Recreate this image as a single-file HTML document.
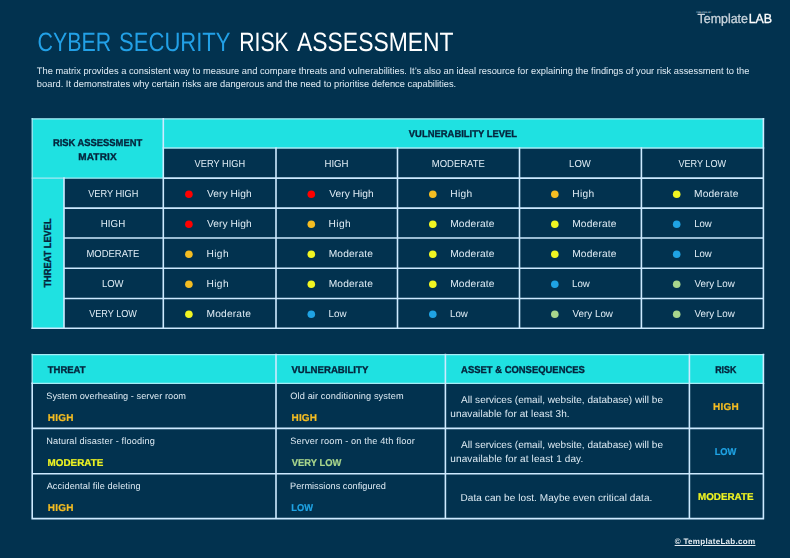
<!DOCTYPE html><html><head><meta charset="utf-8"><title>Cyber Security Risk Assessment</title><style>
html,body{margin:0;padding:0}
body{width:790px;height:558px;background:#02324f;position:relative;overflow:hidden;font-family:"Liberation Sans",sans-serif}
.b{position:absolute}
.t{position:absolute;white-space:nowrap;line-height:1;transform-origin:0 50%;text-rendering:geometricPrecision}
.foot{text-decoration:underline;text-underline-offset:0.5px}.lg{-webkit-text-stroke:0.3px currentColor}.hb{-webkit-text-stroke:0.35px currentColor}.cb{-webkit-text-stroke:0.2px currentColor}
.rot{position:absolute;white-space:nowrap;line-height:1;font-weight:700;transform:translate(-50%,-50%) rotate(-90deg) scaleX(0.915);text-rendering:geometricPrecision;-webkit-text-stroke:0.35px currentColor}
</style></head><body>
<svg class="b" style="left:0;top:0" width="790" height="558" viewBox="0 0 790 558"><rect x="32.2" y="118.8" width="731.20" height="29.20" fill="#1fe1e1"/><rect x="32.2" y="148" width="131.10" height="30.10" fill="#1fe1e1"/><rect x="32.2" y="178.1" width="31.80" height="150.20" fill="#1fe1e1"/><rect x="32.2" y="354.6" width="731.20" height="28.70" fill="#1fe1e1"/><path d="M31.40 118.8H764.20M162.50 148H764.20M31.40 178.1H164.10M32.2 118.00V329.10M31.40 354.6H764.20M31.40 383.3H764.20M32.2 353.80V384.10" fill="none" stroke="#a6ecf6" stroke-width="1.3"/><path d="M162.50 178.1H764.20M63.20 208.1H764.20M63.20 238H764.20M63.20 268.3H764.20M63.20 298.5H764.20M31.40 328.3H764.20M64 177.30V329.10M163.3 118.00V329.10M276 147.20V329.10M397.5 147.20V329.10M519.5 147.20V329.10M641.4 147.20V329.10M763.4 118.00V329.10M31.40 428.4H764.20M31.40 473.7H764.20M31.40 518.6H764.20M32.2 382.50V519.40M276 353.80V519.40M445.4 353.80V519.40M689.4 353.80V519.40M763.4 353.80V519.40" fill="none" stroke="#cdeaff" stroke-width="1.6"/><circle cx="188.9" cy="194.3" r="3.8" fill="#ff0000"/><circle cx="311.3" cy="194.3" r="3.8" fill="#ff0000"/><circle cx="432.8" cy="194.3" r="3.8" fill="#f5bd22"/><circle cx="554.8" cy="194.3" r="3.8" fill="#f5bd22"/><circle cx="676.7" cy="194.3" r="3.8" fill="#f1f522"/><circle cx="188.9" cy="224.3" r="3.8" fill="#ff0000"/><circle cx="311.3" cy="224.3" r="3.8" fill="#f5bd22"/><circle cx="432.8" cy="224.3" r="3.8" fill="#f1f522"/><circle cx="554.8" cy="224.3" r="3.8" fill="#f1f522"/><circle cx="676.7" cy="224.3" r="3.8" fill="#1fa3e4"/><circle cx="188.9" cy="254.3" r="3.8" fill="#f5bd22"/><circle cx="311.3" cy="254.3" r="3.8" fill="#f1f522"/><circle cx="432.8" cy="254.3" r="3.8" fill="#f1f522"/><circle cx="554.8" cy="254.3" r="3.8" fill="#f1f522"/><circle cx="676.7" cy="254.3" r="3.8" fill="#1fa3e4"/><circle cx="188.9" cy="284.3" r="3.8" fill="#f5bd22"/><circle cx="311.3" cy="284.3" r="3.8" fill="#f1f522"/><circle cx="432.8" cy="284.3" r="3.8" fill="#f1f522"/><circle cx="554.8" cy="284.3" r="3.8" fill="#1fa3e4"/><circle cx="676.7" cy="284.3" r="3.8" fill="#a9d68c"/><circle cx="188.9" cy="314.3" r="3.8" fill="#f1f522"/><circle cx="311.3" cy="314.3" r="3.8" fill="#1fa3e4"/><circle cx="432.8" cy="314.3" r="3.8" fill="#1fa3e4"/><circle cx="554.8" cy="314.3" r="3.8" fill="#a9d68c"/><circle cx="676.7" cy="314.3" r="3.8" fill="#a9d68c"/></svg>
<div class="rot" style="left:49.2px;top:253.0px;font-size:10.1px;color:#04243c">THREAT LEVEL</div>
<div class="t" style="left:696.2px;top:12.2px;font-size:2.3px;color:#b8c6d4;font-weight:700;letter-spacing:0.05px">CREATED BY</div>
<div class="b" style="left:0;top:0;width:790px;height:558px;will-change:transform">
<div class="t " id="t0" style="left:37.00px;top:29.00px;font-size:26.5px;font-weight:400;color:#22a0e6;transform:translateX(0.41px) scaleX(0.8088);">CYBER</div>
<div class="t " id="t1" style="left:119.00px;top:29.00px;font-size:26.5px;font-weight:400;color:#22a0e6;transform:translateX(0.06px) scaleX(0.8319);">SECURITY</div>
<div class="t " id="t2" style="left:239.00px;top:29.00px;font-size:26.5px;font-weight:400;color:#ffffff;transform:translateX(0.24px) scaleX(0.8009);">RISK</div>
<div class="t " id="t3" style="left:297.00px;top:29.00px;font-size:26.5px;font-weight:400;color:#ffffff;transform:translateX(0.05px) scaleX(0.8640);">ASSESSMENT</div>
<div class="t " id="t4" style="left:36.00px;top:67.00px;font-size:9.5px;font-weight:400;color:#dfecf5;transform:translateX(0.81px) scaleX(0.9803);">The matrix provides a consistent way to measure and compare threats and vulnerabilities. It’s also an ideal resource for explaining the findings of your risk assessment to the</div>
<div class="t " id="t5" style="left:36.00px;top:80.00px;font-size:9.5px;font-weight:400;color:#dfecf5;transform:translateX(0.87px) scaleX(0.9802);">board. It demonstrates why certain risks are dangerous and the need to prioritise defence capabilities.</div>
<div class="t hb" id="t6" style="left:52.00px;top:139.00px;font-size:10px;font-weight:700;color:#04243c;transform:translateX(0.93px) scaleX(0.9374);">RISK ASSESSMENT</div>
<div class="t hb" id="t7" style="left:78.18px;top:153.00px;font-size:10px;font-weight:700;color:#04243c;letter-spacing:0.192px;">MATRIX</div>
<div class="t hb" id="t8" style="left:408.00px;top:130.00px;font-size:10px;font-weight:700;color:#04243c;transform:translateX(0.83px) scaleX(0.9430);">VULNERABILITY LEVEL</div>
<div class="t " id="t9" style="left:194.00px;top:160.00px;font-size:10.2px;font-weight:400;color:#dfecf5;transform:translateX(0.56px) scaleX(0.9077);">VERY HIGH</div>
<div class="t " id="t10" style="left:88.00px;top:190.00px;font-size:10.2px;font-weight:400;color:#dfecf5;transform:translateX(0.14px) scaleX(0.9031);">VERY HIGH</div>
<div class="t " id="t11" style="left:324.00px;top:160.00px;font-size:10.2px;font-weight:400;color:#dfecf5;transform:translateX(0.40px) scaleX(0.9486);">HIGH</div>
<div class="t " id="t12" style="left:100.00px;top:220.00px;font-size:10.2px;font-weight:400;color:#dfecf5;transform:translateX(0.82px) scaleX(0.9575);">HIGH</div>
<div class="t " id="t13" style="left:431.00px;top:160.00px;font-size:10.2px;font-weight:400;color:#dfecf5;transform:translateX(0.74px) scaleX(0.9316);">MODERATE</div>
<div class="t " id="t14" style="left:86.00px;top:250.00px;font-size:10.2px;font-weight:400;color:#dfecf5;transform:translateX(0.46px) scaleX(0.9292);">MODERATE</div>
<div class="t " id="t15" style="left:569.00px;top:160.00px;font-size:10.2px;font-weight:400;color:#dfecf5;transform:translateX(0.11px) scaleX(0.9339);">LOW</div>
<div class="t " id="t16" style="left:101.00px;top:280.00px;font-size:10.2px;font-weight:400;color:#dfecf5;transform:translateX(0.90px) scaleX(0.9314);">LOW</div>
<div class="t " id="t17" style="left:678.00px;top:160.00px;font-size:10.2px;font-weight:400;color:#dfecf5;transform:translateX(0.40px) scaleX(0.8924);">VERY LOW</div>
<div class="t " id="t18" style="left:89.00px;top:310.00px;font-size:10.2px;font-weight:400;color:#dfecf5;transform:translateX(0.19px) scaleX(0.8936);">VERY LOW</div>
<div class="t " id="t19" style="left:207.05px;top:190.00px;font-size:10.2px;font-weight:400;color:#dfecf5;letter-spacing:0.041px;">Very High</div>
<div class="t " id="t20" style="left:329.31px;top:190.00px;font-size:10.2px;font-weight:400;color:#dfecf5;letter-spacing:0.032px;">Very High</div>
<div class="t " id="t21" style="left:450.23px;top:190.00px;font-size:10.2px;font-weight:400;color:#dfecf5;letter-spacing:0.302px;">High</div>
<div class="t " id="t22" style="left:572.23px;top:190.00px;font-size:10.2px;font-weight:400;color:#dfecf5;letter-spacing:0.302px;">High</div>
<div class="t " id="t23" style="left:693.95px;top:190.00px;font-size:10.2px;font-weight:400;color:#dfecf5;letter-spacing:0.206px;">Moderate</div>
<div class="t " id="t24" style="left:207.05px;top:220.00px;font-size:10.2px;font-weight:400;color:#dfecf5;letter-spacing:0.041px;">Very High</div>
<div class="t " id="t25" style="left:328.51px;top:220.00px;font-size:10.2px;font-weight:400;color:#dfecf5;letter-spacing:0.434px;">High</div>
<div class="t " id="t26" style="left:450.14px;top:220.00px;font-size:10.2px;font-weight:400;color:#dfecf5;letter-spacing:0.193px;">Moderate</div>
<div class="t " id="t27" style="left:572.14px;top:220.00px;font-size:10.2px;font-weight:400;color:#dfecf5;letter-spacing:0.193px;">Moderate</div>
<div class="t " id="t28" style="left:694.00px;top:220.00px;font-size:10.2px;font-weight:400;color:#dfecf5;transform:translateX(0.14px) scaleX(0.9417);">Low</div>
<div class="t " id="t29" style="left:206.38px;top:250.00px;font-size:10.2px;font-weight:400;color:#dfecf5;letter-spacing:0.406px;">High</div>
<div class="t " id="t30" style="left:328.70px;top:250.00px;font-size:10.2px;font-weight:400;color:#dfecf5;letter-spacing:0.163px;">Moderate</div>
<div class="t " id="t31" style="left:450.14px;top:250.00px;font-size:10.2px;font-weight:400;color:#dfecf5;letter-spacing:0.193px;">Moderate</div>
<div class="t " id="t32" style="left:572.14px;top:250.00px;font-size:10.2px;font-weight:400;color:#dfecf5;letter-spacing:0.193px;">Moderate</div>
<div class="t " id="t33" style="left:694.00px;top:250.00px;font-size:10.2px;font-weight:400;color:#dfecf5;transform:translateX(0.14px) scaleX(0.9417);">Low</div>
<div class="t " id="t34" style="left:206.38px;top:280.00px;font-size:10.2px;font-weight:400;color:#dfecf5;letter-spacing:0.406px;">High</div>
<div class="t " id="t35" style="left:328.70px;top:280.00px;font-size:10.2px;font-weight:400;color:#dfecf5;letter-spacing:0.163px;">Moderate</div>
<div class="t " id="t36" style="left:450.14px;top:280.00px;font-size:10.2px;font-weight:400;color:#dfecf5;letter-spacing:0.193px;">Moderate</div>
<div class="t " id="t37" style="left:572.00px;top:280.00px;font-size:10.2px;font-weight:400;color:#dfecf5;transform:translateX(0.07px) scaleX(0.9533);">Low</div>
<div class="t " id="t38" style="left:694.00px;top:280.00px;font-size:10.2px;font-weight:400;color:#dfecf5;transform:translateX(0.53px) scaleX(0.9619);">Very Low</div>
<div class="t " id="t39" style="left:206.55px;top:310.00px;font-size:10.2px;font-weight:400;color:#dfecf5;letter-spacing:0.190px;">Moderate</div>
<div class="t " id="t40" style="left:328.00px;top:310.00px;font-size:10.2px;font-weight:400;color:#dfecf5;transform:translateX(0.56px) scaleX(0.9610);">Low</div>
<div class="t " id="t41" style="left:450.00px;top:310.00px;font-size:10.2px;font-weight:400;color:#dfecf5;transform:translateX(0.07px) scaleX(0.9533);">Low</div>
<div class="t " id="t42" style="left:572.00px;top:310.00px;font-size:10.2px;font-weight:400;color:#dfecf5;transform:translateX(0.58px) scaleX(0.9630);">Very Low</div>
<div class="t " id="t43" style="left:694.00px;top:310.00px;font-size:10.2px;font-weight:400;color:#dfecf5;transform:translateX(0.53px) scaleX(0.9619);">Very Low</div>
<div class="t hb" id="t44" style="left:47.00px;top:366.00px;font-size:10px;font-weight:700;color:#04243c;transform:translateX(0.75px) scaleX(0.9489);">THREAT</div>
<div class="t hb" id="t45" style="left:291.00px;top:366.00px;font-size:10px;font-weight:700;color:#04243c;transform:translateX(0.39px) scaleX(0.9615);">VULNERABILITY</div>
<div class="t hb" id="t46" style="left:461.00px;top:366.00px;font-size:10px;font-weight:700;color:#04243c;transform:translateX(0.12px) scaleX(0.9438);">ASSET &amp; CONSEQUENCES</div>
<div class="t hb" id="t47" style="left:715.00px;top:366.00px;font-size:10px;font-weight:700;color:#04243c;transform:translateX(0.16px) scaleX(0.8872);">RISK</div>
<div class="t " id="t48" style="left:46.24px;top:392.00px;font-size:9.2px;font-weight:400;color:#dfecf5;letter-spacing:0.043px;">System overheating - server room</div>
<div class="t cb" id="t49" style="left:47.68px;top:414.00px;font-size:10px;font-weight:700;color:#f5bd22;letter-spacing:0.300px;">HIGH</div>
<div class="t " id="t50" style="left:290.37px;top:392.00px;font-size:9.2px;font-weight:400;color:#dfecf5;letter-spacing:0.111px;">Old air conditioning system</div>
<div class="t cb" id="t51" style="left:291.59px;top:414.00px;font-size:10px;font-weight:700;color:#f5bd22;letter-spacing:0.139px;">HIGH</div>
<div class="t " id="t52" style="left:461.11px;top:396.00px;font-size:10px;font-weight:400;color:#dfecf5;letter-spacing:0.026px;">All services (email, website, database) will be</div>
<div class="t " id="t53" style="left:450.35px;top:410.00px;font-size:10px;font-weight:400;color:#dfecf5;letter-spacing:0.095px;">unavailable for at least 3h.</div>
<div class="t cb" id="t54" style="left:712.96px;top:403.00px;font-size:10px;font-weight:700;color:#f5bd22;letter-spacing:0.222px;">HIGH</div>
<div class="t " id="t55" style="left:46.13px;top:437.00px;font-size:9.2px;font-weight:400;color:#dfecf5;letter-spacing:0.155px;">Natural disaster - flooding</div>
<div class="t cb" id="t56" style="left:47.00px;top:459.00px;font-size:10px;font-weight:700;color:#f1f522;transform:translateX(0.56px) scaleX(0.9863);">MODERATE</div>
<div class="t " id="t57" style="left:290.13px;top:437.00px;font-size:9.2px;font-weight:400;color:#dfecf5;letter-spacing:0.161px;">Server room - on the 4th floor</div>
<div class="t cb" id="t58" style="left:291.00px;top:459.00px;font-size:10px;font-weight:700;color:#a9d68c;transform:translateX(0.85px) scaleX(0.9376);">VERY LOW</div>
<div class="t " id="t59" style="left:461.11px;top:441.00px;font-size:10px;font-weight:400;color:#dfecf5;letter-spacing:0.026px;">All services (email, website, database) will be</div>
<div class="t " id="t60" style="left:450.34px;top:455.00px;font-size:10px;font-weight:400;color:#dfecf5;letter-spacing:0.120px;">unavailable for at least 1 day.</div>
<div class="t cb" id="t61" style="left:714.00px;top:448.00px;font-size:10px;font-weight:700;color:#1fa3e4;transform:translateX(0.63px) scaleX(0.9349);">LOW</div>
<div class="t " id="t62" style="left:46.65px;top:482.00px;font-size:9.2px;font-weight:400;color:#dfecf5;letter-spacing:0.106px;">Accidental file deleting</div>
<div class="t cb" id="t63" style="left:47.68px;top:504.00px;font-size:10px;font-weight:700;color:#f5bd22;letter-spacing:0.300px;">HIGH</div>
<div class="t " id="t64" style="left:290.04px;top:482.00px;font-size:9.2px;font-weight:400;color:#dfecf5;letter-spacing:0.019px;">Permissions configured</div>
<div class="t cb" id="t65" style="left:291.00px;top:504.00px;font-size:10px;font-weight:700;color:#1fa3e4;transform:translateX(0.35px) scaleX(0.9307);">LOW</div>
<div class="t " id="t66" style="left:460.50px;top:494.00px;font-size:10px;font-weight:400;color:#dfecf5;letter-spacing:0.082px;">Data can be lost. Maybe even critical data.</div>
<div class="t cb" id="t67" style="left:698.00px;top:493.00px;font-size:10px;font-weight:700;color:#f1f522;transform:translateX(0.00px) scaleX(0.9834);">MODERATE</div>
<div class="t lg" id="t68" style="left:697.00px;top:12.00px;font-size:13.2px;font-weight:400;color:#ccd6de;transform:translateX(0.54px) scaleX(0.9409);">Template<span style="color:#fff;margin-left:0.8px">LAB</span></div>
<div class="t foot" id="t69" style="left:674.66px;top:538.00px;font-size:8.0px;font-weight:700;color:#e8eef3;letter-spacing:0.310px;">© TemplateLab.com</div>
</div>
</body></html>
